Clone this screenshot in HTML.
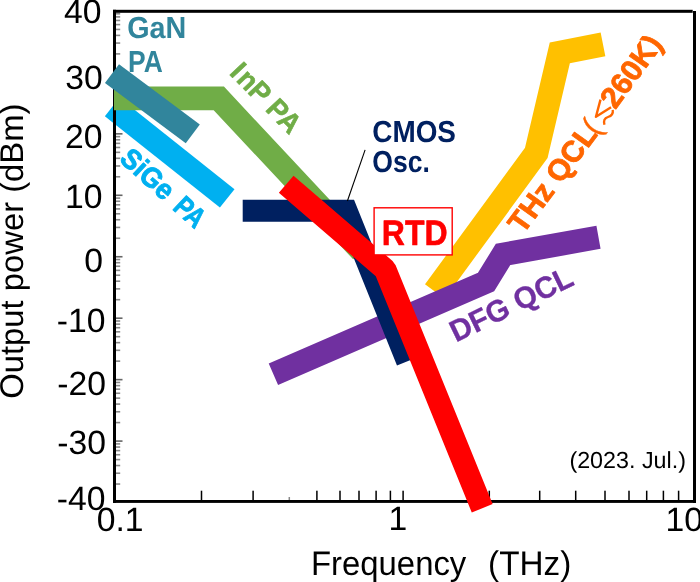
<!DOCTYPE html>
<html><head><meta charset="utf-8"><style>
html,body{margin:0;padding:0;background:#fff;overflow:hidden;}
svg{display:block;will-change:transform;}
text{font-family:"Liberation Sans", sans-serif;text-rendering:geometricPrecision;}
</style></head><body>
<svg width="700" height="582" viewBox="0 0 700 582">
<rect width="700" height="582" fill="#fff"/>
<rect x="200.75" y="490.7" width="1.5" height="9.5" fill="#000"/>
<rect x="252.35" y="490.7" width="1.5" height="9.5" fill="#000"/>
<rect x="288.55" y="497" width="1.5" height="3" fill="#888"/>
<rect x="316.15" y="490.7" width="1.5" height="9.5" fill="#000"/>
<rect x="339.25" y="490.7" width="1.5" height="9.5" fill="#000"/>
<rect x="358.25" y="490.7" width="1.5" height="9.5" fill="#000"/>
<rect x="375.35" y="490.7" width="1.5" height="9.5" fill="#000"/>
<rect x="389.65" y="490.7" width="1.5" height="9.5" fill="#000"/>
<rect x="402.35" y="490.7" width="1.5" height="9.5" fill="#000"/>
<rect x="488.55" y="490.7" width="1.5" height="9.5" fill="#000"/>
<rect x="538.95" y="490.7" width="1.5" height="9.5" fill="#000"/>
<rect x="574.95" y="490.7" width="1.5" height="9.5" fill="#000"/>
<rect x="604.25" y="490.7" width="1.5" height="9.5" fill="#000"/>
<rect x="628.25" y="490.7" width="1.5" height="9.5" fill="#000"/>
<rect x="645.95" y="490.7" width="1.5" height="9.5" fill="#000"/>
<rect x="662.65" y="490.7" width="1.5" height="9.5" fill="#000"/>
<rect x="677.85" y="490.7" width="1.5" height="9.5" fill="#000"/>
<rect x="116" y="483.24" width="4.2" height="1.6" fill="#8a8a8a"/>
<rect x="116" y="472.42" width="4.2" height="1.6" fill="#8a8a8a"/>
<rect x="116" y="464.74" width="4.2" height="1.6" fill="#8a8a8a"/>
<rect x="116" y="458.79" width="4.2" height="1.6" fill="#8a8a8a"/>
<rect x="116" y="453.92" width="4.2" height="1.6" fill="#8a8a8a"/>
<rect x="116" y="449.81" width="4.2" height="1.6" fill="#8a8a8a"/>
<rect x="116" y="446.25" width="4.2" height="1.6" fill="#8a8a8a"/>
<rect x="116" y="443.10" width="4.2" height="1.6" fill="#8a8a8a"/>
<rect x="116" y="440.29" width="6.5" height="1.6" fill="#666"/>
<rect x="116" y="421.79" width="4.2" height="1.6" fill="#8a8a8a"/>
<rect x="116" y="410.97" width="4.2" height="1.6" fill="#8a8a8a"/>
<rect x="116" y="403.29" width="4.2" height="1.6" fill="#8a8a8a"/>
<rect x="116" y="397.34" width="4.2" height="1.6" fill="#8a8a8a"/>
<rect x="116" y="392.47" width="4.2" height="1.6" fill="#8a8a8a"/>
<rect x="116" y="388.36" width="4.2" height="1.6" fill="#8a8a8a"/>
<rect x="116" y="384.80" width="4.2" height="1.6" fill="#8a8a8a"/>
<rect x="116" y="381.65" width="4.2" height="1.6" fill="#8a8a8a"/>
<rect x="116" y="378.84" width="6.5" height="1.6" fill="#666"/>
<rect x="116" y="360.34" width="4.2" height="1.6" fill="#8a8a8a"/>
<rect x="116" y="349.52" width="4.2" height="1.6" fill="#8a8a8a"/>
<rect x="116" y="341.84" width="4.2" height="1.6" fill="#8a8a8a"/>
<rect x="116" y="335.89" width="4.2" height="1.6" fill="#8a8a8a"/>
<rect x="116" y="331.02" width="4.2" height="1.6" fill="#8a8a8a"/>
<rect x="116" y="326.91" width="4.2" height="1.6" fill="#8a8a8a"/>
<rect x="116" y="323.35" width="4.2" height="1.6" fill="#8a8a8a"/>
<rect x="116" y="320.20" width="4.2" height="1.6" fill="#8a8a8a"/>
<rect x="116" y="317.39" width="6.5" height="1.6" fill="#666"/>
<rect x="116" y="298.89" width="4.2" height="1.6" fill="#8a8a8a"/>
<rect x="116" y="288.07" width="4.2" height="1.6" fill="#8a8a8a"/>
<rect x="116" y="280.39" width="4.2" height="1.6" fill="#8a8a8a"/>
<rect x="116" y="274.44" width="4.2" height="1.6" fill="#8a8a8a"/>
<rect x="116" y="269.57" width="4.2" height="1.6" fill="#8a8a8a"/>
<rect x="116" y="265.46" width="4.2" height="1.6" fill="#8a8a8a"/>
<rect x="116" y="261.90" width="4.2" height="1.6" fill="#8a8a8a"/>
<rect x="116" y="258.75" width="4.2" height="1.6" fill="#8a8a8a"/>
<rect x="116" y="255.94" width="6.5" height="1.6" fill="#666"/>
<rect x="116" y="237.44" width="4.2" height="1.6" fill="#8a8a8a"/>
<rect x="116" y="226.62" width="4.2" height="1.6" fill="#8a8a8a"/>
<rect x="116" y="218.94" width="4.2" height="1.6" fill="#8a8a8a"/>
<rect x="116" y="212.99" width="4.2" height="1.6" fill="#8a8a8a"/>
<rect x="116" y="208.12" width="4.2" height="1.6" fill="#8a8a8a"/>
<rect x="116" y="204.01" width="4.2" height="1.6" fill="#8a8a8a"/>
<rect x="116" y="200.45" width="4.2" height="1.6" fill="#8a8a8a"/>
<rect x="116" y="197.30" width="4.2" height="1.6" fill="#8a8a8a"/>
<rect x="116" y="194.49" width="6.5" height="1.6" fill="#666"/>
<rect x="116" y="175.99" width="4.2" height="1.6" fill="#8a8a8a"/>
<rect x="116" y="165.17" width="4.2" height="1.6" fill="#8a8a8a"/>
<rect x="116" y="157.49" width="4.2" height="1.6" fill="#8a8a8a"/>
<rect x="116" y="151.54" width="4.2" height="1.6" fill="#8a8a8a"/>
<rect x="116" y="146.67" width="4.2" height="1.6" fill="#8a8a8a"/>
<rect x="116" y="142.56" width="4.2" height="1.6" fill="#8a8a8a"/>
<rect x="116" y="139.00" width="4.2" height="1.6" fill="#8a8a8a"/>
<rect x="116" y="135.85" width="4.2" height="1.6" fill="#8a8a8a"/>
<rect x="116" y="133.04" width="6.5" height="1.6" fill="#666"/>
<rect x="116" y="114.54" width="4.2" height="1.6" fill="#8a8a8a"/>
<rect x="116" y="103.72" width="4.2" height="1.6" fill="#8a8a8a"/>
<rect x="116" y="96.04" width="4.2" height="1.6" fill="#8a8a8a"/>
<rect x="116" y="90.09" width="4.2" height="1.6" fill="#8a8a8a"/>
<rect x="116" y="85.22" width="4.2" height="1.6" fill="#8a8a8a"/>
<rect x="116" y="81.11" width="4.2" height="1.6" fill="#8a8a8a"/>
<rect x="116" y="77.55" width="4.2" height="1.6" fill="#8a8a8a"/>
<rect x="116" y="74.40" width="4.2" height="1.6" fill="#8a8a8a"/>
<rect x="116" y="71.59" width="6.5" height="1.6" fill="#666"/>
<rect x="116" y="53.09" width="4.2" height="1.6" fill="#8a8a8a"/>
<rect x="116" y="42.27" width="4.2" height="1.6" fill="#8a8a8a"/>
<rect x="116" y="34.59" width="4.2" height="1.6" fill="#8a8a8a"/>
<rect x="116" y="28.64" width="4.2" height="1.6" fill="#8a8a8a"/>
<rect x="116" y="23.77" width="4.2" height="1.6" fill="#8a8a8a"/>
<rect x="116" y="19.66" width="4.2" height="1.6" fill="#8a8a8a"/>
<rect x="116" y="16.10" width="4.2" height="1.6" fill="#8a8a8a"/>
<rect x="116" y="12.95" width="4.2" height="1.6" fill="#8a8a8a"/>
<polyline points="112.15,107.05 227.20,198.35" fill="none" stroke="#00B0F0" stroke-width="23.5" stroke-linejoin="miter" stroke-miterlimit="10" stroke-linecap="butt"/>
<rect x="113" y="9.8" width="579.7" height="3.0" fill="#000"/>
<rect x="693.0" y="11" width="3.0" height="491.9" fill="#000"/>
<rect x="113" y="500" width="583" height="2.9" fill="#000"/>
<rect x="113" y="9.8" width="3.0" height="493.1" fill="#000"/>
<polyline points="114.00,98.40 218.80,98.40 361.80,251.30" fill="none" stroke="#70AD47" stroke-width="23.6" stroke-linejoin="miter" stroke-miterlimit="10" stroke-linecap="butt"/>
<polyline points="112.00,73.60 192.80,133.90" fill="none" stroke="#31859C" stroke-width="23.5" stroke-linejoin="miter" stroke-miterlimit="10" stroke-linecap="butt"/>
<polyline points="434.80,291.50 536.30,152.90 559.80,52.90 603.00,44.35" fill="none" stroke="#FFC000" stroke-width="24.3" stroke-linejoin="miter" stroke-miterlimit="10" stroke-linecap="butt"/>
<polyline points="273.40,374.20 486.10,282.00 503.10,254.40 598.50,237.30" fill="none" stroke="#7030A0" stroke-width="23.5" stroke-linejoin="miter" stroke-miterlimit="10" stroke-linecap="butt"/>
<polyline points="242.70,210.80 346.60,210.80 407.20,361.40" fill="none" stroke="#002060" stroke-width="22" stroke-linejoin="miter" stroke-miterlimit="10" stroke-linecap="butt"/>
<polyline points="286.20,184.20 385.20,269.50 482.20,508.30" fill="none" stroke="#FF0000" stroke-width="22.5" stroke-linejoin="bevel" stroke-miterlimit="10" stroke-linecap="butt"/>
<rect x="374.1" y="207.8" width="78.1" height="47.1" fill="#fff" stroke="#FF0000" stroke-width="1.4"/>
<line x1="365.10" y1="149.90" x2="347.40" y2="201.00" stroke="#000" stroke-width="1.1"/>
<text transform="translate(127.25,37.70) scale(0.945,1.000)" font-size="30.4" font-weight="bold" fill="#31859C">GaN</text>
<text transform="translate(128.05,71.50) scale(0.868,1.000)" font-size="30.4" font-weight="bold" fill="#31859C">PA</text>
<text transform="translate(372.28,141.90) scale(0.918,1.000)" font-size="30.4" font-weight="bold" fill="#002060">CMOS</text>
<text transform="translate(372.34,171.50) scale(0.873,1.000)" font-size="30.4" font-weight="bold" fill="#002060">Osc.</text>
<text transform="translate(381.86,244.90) scale(0.903,1.000)" font-size="35.4" font-weight="bold" fill="#FF0000" stroke="#FF0000" stroke-width="0.6" stroke-linejoin="round">RTD</text>
<text transform="translate(228.53,73.67) scale(1.027,1) rotate(45.928) scale(0.9570,1)" font-size="27.900" font-weight="bold" fill="#70AD47" stroke="#70AD47" stroke-width="0.6" stroke-linejoin="round">I</text>
<text transform="translate(235.13,80.60) scale(1.027,1) rotate(45.928) scale(0.9570,1)" font-size="27.900" font-weight="bold" fill="#70AD47" stroke="#70AD47" stroke-width="0.6" stroke-linejoin="round">nP PA</text>
<text transform="translate(118.36,160.51) scale(1.027,1) rotate(42.600) scale(0.9460,1)" font-size="28.000" font-weight="bold" fill="#00B0F0" stroke="#00B0F0" stroke-width="0.9" stroke-linejoin="round">SiGe</text>
<text transform="translate(171.83,208.74) scale(1.027,1) rotate(42.600) scale(0.8300,1)" font-size="28.000" font-weight="bold" fill="#00B0F0" stroke="#00B0F0" stroke-width="0.9" stroke-linejoin="round">PA</text>
<text transform="translate(455.96,342.50) scale(1.0,1) rotate(-25.950) scale(0.9760,1)" font-size="30.300" font-weight="bold" fill="#7030A0" stroke="#7030A0" stroke-width="0.3" stroke-linejoin="round">DFG QCL</text>
<g transform="translate(523.10,234.80) rotate(-53.6)">
<g transform="rotate(0.47) scale(0.989,1)">
<text transform="skewX(1.5) scale(1.0,1)" font-size="30.0" font-weight="bold" fill="#FF6600" stroke="#FF6600" stroke-width="0.8" stroke-linejoin="round">THz QCL</text>
<text transform="translate(124.2,0) skewX(1.5)" font-size="30.0" font-weight="normal" fill="#FF6600" stroke="#FF6600" stroke-width="0.3">(</text>
</g>
<path d="M154.7,-17.9 L138.2,-11.4 L154.9,-4.9" fill="none" stroke="#FF6600" stroke-width="2.4" stroke-linejoin="round"/>
<path d="M136.8,0.2 C139.5,-3.2 142.5,-3.6 145.2,-1.6 S150.8,1.0 153.8,-2.0" fill="none" stroke="#FF6600" stroke-width="2.3"/>
<text transform="translate(155.2,0) skewX(1.5) scale(1.0,1)" font-size="30.0" font-weight="bold" fill="#FF6600" stroke="#FF6600" stroke-width="0.8" stroke-linejoin="round">260K)</text>
</g>
<text transform="translate(64.00,23.19)" font-size="33.7" font-weight="normal" fill="#000">40</text>
<text transform="translate(65.30,89.19)" font-size="33.7" font-weight="normal" fill="#000">30</text>
<text transform="translate(64.90,147.89)" font-size="33.7" font-weight="normal" fill="#000">20</text>
<text transform="translate(64.90,208.29)" font-size="33.7" font-weight="normal" fill="#000">10</text>
<text transform="translate(84.18,271.69)" font-size="33.7" font-weight="normal" fill="#000">0</text>
<text transform="translate(56.78,332.19)" font-size="33.7" font-weight="normal" fill="#000">-10</text>
<text transform="translate(57.18,394.59)" font-size="33.7" font-weight="normal" fill="#000">-20</text>
<text transform="translate(57.18,454.19)" font-size="33.7" font-weight="normal" fill="#000">-30</text>
<text transform="translate(56.78,509.99)" font-size="33.7" font-weight="normal" fill="#000">-40</text>
<text transform="translate(96.65,531.09)" font-size="33.7" font-weight="normal" fill="#000">0.1</text>
<text transform="translate(388.40,530.35)" font-size="33.7" font-weight="normal" fill="#000">1</text>
<text transform="translate(665.50,530.89)" font-size="33.7" font-weight="normal" fill="#000">10</text>
<text transform="translate(310.97,575.00) scale(0.967,1.000)" font-size="34" font-weight="normal" fill="#000">Frequency</text>
<text transform="translate(488.10,575.00) scale(0.979,1.000)" font-size="34" font-weight="normal" fill="#000">(THz)</text>
<text transform="translate(23.30,398.84) rotate(-90.00)" font-size="32.8" font-weight="normal" fill="#000">Output power (dBm)</text>
<text transform="translate(569.40,467.78)" font-size="23.3" font-weight="normal" fill="#000">(2023. Jul.)</text>
</svg></body></html>
